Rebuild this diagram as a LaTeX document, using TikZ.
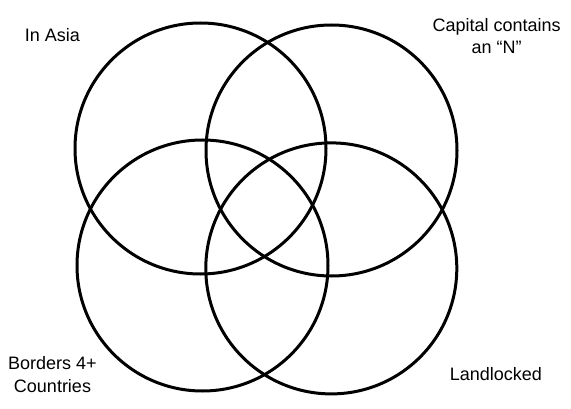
\documentclass[tikz,border=0pt]{standalone}
\usepackage{fontspec}
\setmainfont{Liberation Sans}

\def\rad{125.5}

\begin{document}
\begin{tikzpicture}[x=1pt, y=-1pt, line width=3pt,
    setlabel/.style={font=\fontsize{18}{22.5}\selectfont, align=center, inner sep=0pt, anchor=base}]
      \useasboundingbox (0,0) rectangle (571,409);
      \foreach \cx/\cy in {200.5/148.5, 331.5/150.5, 202.5/265.5, 331.3/268.4} {
          \draw (\cx,\cy) circle [radius=\rad];
      }
      \node[setlabel] (asia) at (52.5, 41.7) {In Asia};
      \node[setlabel] (capital) at (496.7, 54) {Capital contains\\an “N”};
      \node[setlabel] (borders) at (52.5, 392) {Borders 4+\\Countries};
      \node[setlabel] (landlocked) at (495.8, 380.7) {Landlocked};
    \end{tikzpicture}
\end{document}
